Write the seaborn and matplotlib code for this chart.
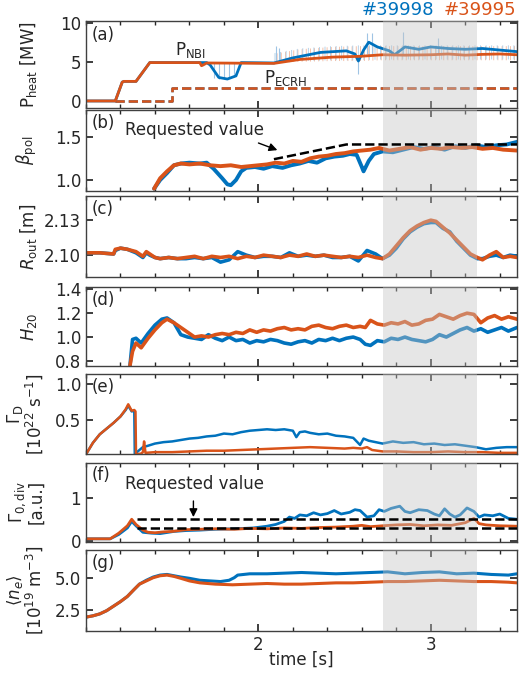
import numpy as np
import pandas as pd
import matplotlib
matplotlib.use("Agg")
import matplotlib.pyplot as plt
from matplotlib.ticker import FixedLocator, MultipleLocator
import seaborn as sns

# ---- data (time in s) ----
BLUE = "#0072BD"    # shot 39998
ORANGE = "#D95319"  # shot 39995

# (a) heating power [MW]
t_nbi_o = [1.0, 1.17, 1.21, 1.22, 1.29, 1.37, 1.66, 1.67, 1.68, 1.70, 2.09, 2.24, 2.43, 2.59,
           2.72, 2.85, 3.0, 3.1, 3.2, 3.3, 3.4, 3.5]
p_nbi_o = [0, 0, 2.4, 2.5, 2.5, 4.9, 4.9, 4.5, 4.6, 4.85, 4.8, 5.3, 5.6, 5.7,
           5.9, 5.85, 5.9, 6.0, 5.85, 5.95, 6.0, 5.9]
t_nbi_b = [1.0, 1.17, 1.21, 1.22, 1.29, 1.37, 1.66, 1.70, 1.72, 1.77, 1.82, 1.87, 1.90, 2.09,
           2.20, 2.36, 2.51, 2.56, 2.58, 2.61, 2.64, 2.69, 2.76, 2.79, 2.85, 2.93, 3.0, 3.1,
           3.2, 3.3, 3.4, 3.5]
p_nbi_b = [0, 0, 2.4, 2.5, 2.5, 4.9, 4.9, 4.9, 4.6, 3.0, 2.8, 3.2, 4.9, 4.85,
           5.5, 6.2, 6.4, 6.0, 5.1, 6.5, 7.5, 6.9, 6.4, 5.9, 6.9, 6.6, 6.9, 6.7,
           6.6, 6.7, 6.5, 6.3]
t_ecrh = [1.17, 1.497, 1.497, 3.5]
p_ecrh = [0.05, 0.05, 1.6, 1.6]
# modulated raw NBI signal (pale band)
t_raw = [2.09, 2.24, 2.43, 2.59, 2.72, 3.0, 3.5]
raw_lo = [4.9, 5.0, 5.1, 5.1, 5.2, 5.2, 5.2]
raw_hi = [6.0, 6.6, 6.9, 7.0, 7.0, 7.0, 7.0]
spike_t = [1.74, 1.77, 1.80, 1.83, 1.86, 2.10, 2.12, 2.58, 2.63, 2.66, 2.84, 3.04]
spike_lo = [2.9, 2.8, 2.8, 2.9, 3.0, 5.0, 5.0, 3.5, 6.0, 6.0, 6.0, 6.0]
spike_hi = [4.9, 4.9, 4.9, 4.9, 4.9, 7.0, 6.8, 5.6, 8.7, 8.7, 8.8, 8.0]

# (b) beta_pol
t_bp_b = [1.395, 1.43, 1.47, 1.51, 1.55, 1.60, 1.66, 1.70, 1.74, 1.79, 1.82, 1.84, 1.87, 1.90,
          1.93, 1.98, 2.03, 2.08, 2.14, 2.19, 2.24, 2.29, 2.34, 2.39, 2.44, 2.49, 2.53, 2.57,
          2.60, 2.61, 2.64, 2.67, 2.72, 2.78, 2.84, 2.90, 2.96, 3.02, 3.08, 3.14, 3.20, 3.26,
          3.32, 3.38, 3.44, 3.5]
bp_b = [0.90, 1.00, 1.08, 1.17, 1.19, 1.20, 1.19, 1.20, 1.13, 1.02, 0.95, 0.94, 1.00, 1.10,
        1.14, 1.15, 1.13, 1.16, 1.14, 1.17, 1.19, 1.22, 1.20, 1.25, 1.27, 1.28, 1.30, 1.29,
        1.15, 1.10, 1.22, 1.30, 1.33, 1.32, 1.35, 1.38, 1.36, 1.38, 1.35, 1.39, 1.37, 1.40,
        1.38, 1.40, 1.41, 1.44]
t_bp_o = [1.395, 1.43, 1.47, 1.51, 1.55, 1.60, 1.66, 1.72, 1.78, 1.84, 1.90, 1.95, 2.00, 2.05,
          2.10, 2.15, 2.20, 2.25, 2.30, 2.35, 2.40, 2.45, 2.50, 2.55, 2.60, 2.65, 2.70, 2.76,
          2.82, 2.88, 2.94, 3.00, 3.06, 3.12, 3.18, 3.24, 3.30, 3.36, 3.42, 3.5]
bp_o = [0.90, 1.02, 1.10, 1.17, 1.19, 1.18, 1.19, 1.17, 1.16, 1.17, 1.15, 1.16, 1.17, 1.18,
        1.20, 1.19, 1.22, 1.21, 1.25, 1.27, 1.28, 1.30, 1.31, 1.33, 1.34, 1.35, 1.37, 1.34,
        1.36, 1.38, 1.35, 1.37, 1.36, 1.38, 1.37, 1.38, 1.36, 1.37, 1.35, 1.34]
t_bp_req = [2.09, 2.51, 3.5]
bp_req = [1.24, 1.41, 1.41]

# (c) R_out [m]
t_r = [1.0, 1.08, 1.16, 1.17, 1.20, 1.24, 1.29, 1.33, 1.35, 1.37, 1.40, 1.43, 1.48, 1.53,
       1.58, 1.63, 1.68, 1.73, 1.78, 1.83, 1.88, 1.93, 1.98, 2.03, 2.08, 2.13, 2.18, 2.23,
       2.28, 2.33, 2.38, 2.43, 2.48, 2.53, 2.58, 2.63, 2.68, 2.72, 2.76, 2.80, 2.84, 2.88,
       2.92, 2.96, 3.00, 3.03, 3.07, 3.11, 3.15, 3.19, 3.23, 3.27, 3.30, 3.34, 3.38, 3.42,
       3.46, 3.5]
r_o = [2.102, 2.102, 2.101, 2.105, 2.106, 2.105, 2.103, 2.099, 2.103, 2.101, 2.098, 2.097,
       2.098, 2.097, 2.098, 2.099, 2.097, 2.099, 2.098, 2.099, 2.097, 2.099, 2.098, 2.100,
       2.099, 2.098, 2.100, 2.099, 2.101, 2.099, 2.100, 2.099, 2.098, 2.099, 2.098, 2.100,
       2.098, 2.097, 2.101, 2.108, 2.115, 2.121, 2.125, 2.128, 2.130, 2.129, 2.124, 2.119,
       2.113, 2.107, 2.101, 2.098, 2.096, 2.100, 2.103, 2.098, 2.099, 2.098]
r_b = [2.102, 2.102, 2.101, 2.104, 2.106, 2.105, 2.102, 2.098, 2.102, 2.100, 2.098, 2.097,
       2.098, 2.097, 2.097, 2.098, 2.097, 2.098, 2.094, 2.096, 2.103, 2.100, 2.098, 2.099,
       2.099, 2.098, 2.102, 2.099, 2.100, 2.099, 2.100, 2.098, 2.098, 2.099, 2.095, 2.104,
       2.101, 2.097, 2.100, 2.106, 2.114, 2.120, 2.124, 2.127, 2.128, 2.128, 2.123, 2.120,
       2.112, 2.106, 2.100, 2.097, 2.097, 2.099, 2.100, 2.098, 2.100, 2.099]

# (d) H20
t_h = [1.255, 1.27, 1.29, 1.32, 1.36, 1.40, 1.44, 1.47, 1.51, 1.55, 1.59, 1.63, 1.67, 1.71,
       1.75, 1.79, 1.83, 1.87, 1.91, 1.95, 1.99, 2.03, 2.07, 2.11, 2.15, 2.19, 2.23, 2.27,
       2.31, 2.35, 2.39, 2.43, 2.47, 2.51, 2.55, 2.59, 2.62, 2.65, 2.69, 2.73, 2.77, 2.81,
       2.85, 2.89, 2.93, 2.97, 3.01, 3.05, 3.09, 3.13, 3.17, 3.21, 3.25, 3.29, 3.33, 3.37,
       3.41, 3.45, 3.5]
h_b = [0.76, 0.98, 0.99, 0.95, 1.03, 1.10, 1.15, 1.16, 1.12, 1.02, 1.00, 0.99, 0.98, 1.02,
       0.99, 0.97, 1.00, 0.97, 0.98, 0.95, 0.97, 0.96, 0.98, 0.97, 0.95, 0.94, 0.96, 0.97,
       0.95, 0.98, 0.97, 0.99, 0.97, 0.99, 1.00, 0.98, 0.94, 0.93, 0.97, 0.96, 0.99, 0.98,
       1.00, 0.98, 0.97, 0.96, 0.98, 1.02, 1.00, 1.03, 1.06, 1.08, 1.05, 1.07, 1.04, 1.06,
       1.08, 1.05, 1.08]
h_o = [0.76, 0.88, 0.95, 0.91, 0.99, 1.06, 1.12, 1.15, 1.12, 1.08, 1.04, 1.00, 1.01, 1.00,
       1.02, 1.03, 1.02, 1.04, 1.03, 1.06, 1.04, 1.06, 1.05, 1.07, 1.08, 1.06, 1.07, 1.06,
       1.09, 1.10, 1.08, 1.07, 1.09, 1.10, 1.08, 1.09, 1.08, 1.14, 1.11, 1.10, 1.12, 1.11,
       1.13, 1.10, 1.11, 1.14, 1.15, 1.19, 1.17, 1.15, 1.18, 1.20, 1.19, 1.12, 1.16, 1.18,
       1.15, 1.17, 1.15]

# (e) gas puff Gamma_D [1e22 /s]
t_gd_o = [1.0, 1.04, 1.08, 1.12, 1.16, 1.20, 1.23, 1.245, 1.265, 1.28, 1.287, 1.29, 1.32,
          1.33, 1.337, 1.345, 1.40, 1.50, 1.60, 1.70, 1.80, 1.90, 2.00, 2.10, 2.20, 2.30,
          2.40, 2.50, 2.55, 2.60, 2.63, 2.66, 2.72, 2.80, 2.90, 3.00, 3.10, 3.20, 3.30, 3.40,
          3.5]
gd_o = [0.02, 0.18, 0.30, 0.38, 0.46, 0.55, 0.65, 0.72, 0.63, 0.64, 0.62, 0.02, 0.03,
        0.05, 0.20, 0.04, 0.05, 0.05, 0.06, 0.07, 0.07, 0.08, 0.09, 0.10, 0.11, 0.12,
        0.11, 0.10, 0.11, 0.10, 0.12, 0.08, 0.06, 0.06, 0.05, 0.05, 0.06, 0.05, 0.05, 0.04,
        0.04]
t_gd_b = [1.0, 1.04, 1.08, 1.12, 1.16, 1.20, 1.23, 1.245, 1.265, 1.28, 1.283, 1.30, 1.33,
          1.36, 1.40, 1.45, 1.50, 1.55, 1.60, 1.65, 1.70, 1.75, 1.80, 1.85, 1.90, 1.95,
          2.00, 2.05, 2.10, 2.15, 2.20, 2.22, 2.24, 2.27, 2.30, 2.35, 2.40, 2.45, 2.50,
          2.55, 2.59, 2.61, 2.64, 2.68, 2.72, 2.78, 2.84, 2.90, 2.96, 3.02, 3.08, 3.14,
          3.20, 3.26, 3.32, 3.38, 3.44, 3.5]
gd_b = [0.02, 0.18, 0.30, 0.38, 0.46, 0.55, 0.64, 0.70, 0.62, 0.63, 0.02, 0.06, 0.12,
        0.14, 0.17, 0.19, 0.20, 0.22, 0.24, 0.25, 0.27, 0.28, 0.31, 0.30, 0.33, 0.35,
        0.36, 0.37, 0.36, 0.37, 0.35, 0.26, 0.33, 0.34, 0.32, 0.30, 0.31, 0.28, 0.27,
        0.25, 0.15, 0.24, 0.21, 0.19, 0.17, 0.20, 0.18, 0.19, 0.16, 0.17, 0.15, 0.16,
        0.14, 0.12, 0.09, 0.11, 0.12, 0.12]

# (f) divertor neutral flux [a.u.]
t_g0_b = [1.0, 1.14, 1.19, 1.24, 1.265, 1.29, 1.33, 1.38, 1.43, 1.51, 1.58, 1.66, 1.75,
          1.86, 1.97, 2.05, 2.10, 2.15, 2.18, 2.21, 2.24, 2.28, 2.32, 2.36, 2.40, 2.44,
          2.48, 2.53, 2.56, 2.59, 2.63, 2.67, 2.70, 2.73, 2.77, 2.82, 2.85, 2.88, 2.93,
          2.98, 3.02, 3.05, 3.08, 3.11, 3.14, 3.17, 3.21, 3.25, 3.28, 3.31, 3.36, 3.40,
          3.45, 3.5]
g0_b = [0.05, 0.05, 0.15, 0.30, 0.45, 0.35, 0.20, 0.18, 0.17, 0.22, 0.24, 0.25, 0.27,
        0.28, 0.30, 0.34, 0.38, 0.45, 0.55, 0.52, 0.60, 0.58, 0.65, 0.60, 0.63, 0.70,
        0.62, 0.66, 0.72, 0.70, 0.55, 0.58, 0.72, 0.68, 0.75, 0.80, 0.68, 0.65, 0.72,
        0.70, 0.62, 0.58, 0.74, 0.62, 0.55, 0.60, 0.76, 0.68, 0.55, 0.60, 0.58, 0.62,
        0.52, 0.50]
t_g0_o = [1.0, 1.14, 1.19, 1.24, 1.265, 1.29, 1.33, 1.36, 1.40, 1.45, 1.50, 1.58, 1.66,
          1.75, 1.86, 1.95, 2.05, 2.15, 2.25, 2.35, 2.45, 2.55, 2.60, 2.65, 2.72, 2.80,
          2.88, 2.96, 3.04, 3.12, 3.20, 3.25, 3.28, 3.32, 3.40, 3.5]
g0_o = [0.05, 0.05, 0.18, 0.35, 0.50, 0.38, 0.25, 0.20, 0.19, 0.21, 0.22, 0.26, 0.27,
        0.28, 0.27, 0.29, 0.28, 0.30, 0.29, 0.31, 0.32, 0.34, 0.36, 0.33, 0.35, 0.37,
        0.38, 0.35, 0.37, 0.36, 0.42, 0.52, 0.40, 0.37, 0.35, 0.34]
t_g0_req = [1.294, 3.5]
g0_req_b = [0.50, 0.50]
g0_req_o = [0.29, 0.29]

# (g) line averaged density [1e19 m^-3]
t_ne_o = [1.0, 1.04, 1.08, 1.12, 1.16, 1.20, 1.24, 1.28, 1.31, 1.35, 1.39, 1.43, 1.47,
          1.51, 1.55, 1.60, 1.66, 1.75, 1.85, 1.95, 2.05, 2.15, 2.25, 2.35, 2.45, 2.55,
          2.65, 2.75, 2.85, 2.95, 3.05, 3.15, 3.25, 3.35, 3.45, 3.5]
ne_o = [1.95, 2.05, 2.2, 2.45, 2.8, 3.15, 3.55, 4.1, 4.5, 4.75, 5.0, 5.15, 5.2,
        5.1, 4.95, 4.75, 4.6, 4.5, 4.45, 4.5, 4.55, 4.5, 4.5, 4.55, 4.6, 4.6,
        4.65, 4.7, 4.7, 4.75, 4.8, 4.75, 4.7, 4.7, 4.65, 4.6]
t_ne_b = [1.0, 1.04, 1.08, 1.12, 1.16, 1.20, 1.24, 1.28, 1.31, 1.35, 1.39, 1.43, 1.47,
          1.51, 1.55, 1.60, 1.66, 1.72, 1.78, 1.83, 1.86, 1.88, 1.95, 2.05, 2.15, 2.25,
          2.35, 2.45, 2.55, 2.65, 2.75, 2.85, 2.95, 3.05, 3.15, 3.25, 3.35, 3.45, 3.5]
ne_b = [1.95, 2.05, 2.2, 2.45, 2.8, 3.15, 3.55, 4.1, 4.5, 4.8, 5.05, 5.2, 5.25,
        5.15, 5.05, 4.95, 4.8, 4.75, 4.7, 4.8, 5.0, 5.2, 5.3, 5.3, 5.35, 5.4,
        5.35, 5.3, 5.35, 5.4, 5.45, 5.3, 5.4, 5.45, 5.3, 5.35, 5.25, 5.2, 5.3]

shade_window = (2.72, 3.27)

# ---- styling ----
sns.set_theme(style="ticks")
plt.rcParams.update({
    "font.family": ["DejaVu Sans"],
    "font.size": 12,
    "xtick.direction": "in", "ytick.direction": "in",
    "xtick.top": True, "ytick.right": True,
    "xtick.major.size": 5, "ytick.major.size": 5,
    "xtick.minor.size": 3, "ytick.minor.size": 3,
    "xtick.labelsize": 12, "ytick.labelsize": 12,
    "axes.edgecolor": "#404040", "axes.linewidth": 1.0,
    "hatch.linewidth": 0.6,
})


def trace(ax, t, y, color, lw=2.0, ls="-", z=2):
    df = pd.DataFrame({"t": t, "y": y})
    sns.lineplot(data=df, x="t", y="y", ax=ax, color=color, lw=lw, linestyle=ls,
                 estimator=None, sort=False, zorder=z, legend=False)


fig = plt.figure(figsize=(5.2, 6.75), dpi=100)
panel_px = [(20.7, 108), (110, 191), (195.7, 277.3), (287.3, 365.7),
            (374.3, 454), (462.7, 541.7), (550, 630.7)]
axes = []
for top, bot in panel_px:
    ax = fig.add_axes([86 / 520, 1 - bot / 675, (517 - 86) / 520, (bot - top) / 675],
                      sharex=axes[0] if axes else None)
    axes.append(ax)

ax_a, ax_b, ax_c, ax_d, ax_e, ax_f, ax_g = axes

# (a)
ax_a.fill_between(t_raw, raw_lo, raw_hi, facecolor="none", edgecolor="#f2b79c",
                  hatch="||||", lw=0, zorder=1)
ax_a.fill_between(t_raw, [v + 0.1 for v in raw_lo], [v + 0.1 for v in raw_hi],
                  facecolor="none", edgecolor="#a9cbe6", hatch="|||", lw=0, zorder=1)
ax_a.vlines(spike_t, spike_lo, spike_hi, color="#9fc4e4", lw=0.8, zorder=1)
trace(ax_a, t_ecrh, p_ecrh, BLUE, lw=1.8, ls="--")
trace(ax_a, t_ecrh, p_ecrh, ORANGE, lw=1.8, ls="--")
trace(ax_a, t_nbi_b, p_nbi_b, BLUE, lw=2.0)
trace(ax_a, t_nbi_o, p_nbi_o, ORANGE, lw=2.0)
ax_a.text(1.516, 6.5, r"$\mathrm{P_{NBI}}$", fontsize=12, va="center")
ax_a.text(2.03, 2.9, r"$\mathrm{P_{ECRH}}$", fontsize=12, va="center")
ax_a.set_ylim(-0.9, 10.25)
ax_a.set_yticks([0, 5, 10])
ax_a.set_ylabel(r"$\mathrm{P_{heat}}$ [MW]")

# (b)
trace(ax_b, t_bp_b, bp_b, BLUE, lw=2.8)
trace(ax_b, t_bp_o, bp_o, ORANGE, lw=2.8)
trace(ax_b, t_bp_req, bp_req, "black", lw=1.8, ls="--", z=4)
ax_b.annotate("Requested value", xy=(2.11, 1.345), xytext=(1.225, 1.58),
              fontsize=12, va="center",
              arrowprops=dict(arrowstyle="-|>", color="black", lw=1,
                              relpos=(0.88, 0.0), shrinkA=2, shrinkB=0))
ax_b.set_ylim(0.873, 1.808)
ax_b.set_yticks([1.0, 1.5])
ax_b.set_ylabel(r"$\beta_\mathrm{pol}$")

# (c)
trace(ax_c, t_r, r_b, BLUE, lw=2.6)
trace(ax_c, t_r, r_o, ORANGE, lw=2.6)
ax_c.set_ylim(2.081, 2.151)
ax_c.set_yticks([2.10, 2.13])
ax_c.set_ylabel(r"$R_\mathrm{out}$ [m]")

# (d)
trace(ax_d, t_h, h_b, BLUE, lw=2.6)
trace(ax_d, t_h, h_o, ORANGE, lw=2.6)
ax_d.set_ylim(0.76, 1.417)
ax_d.set_yticks([0.8, 1.0, 1.2, 1.4])
ax_d.set_ylabel(r"$H_{20}$")

# (e)
trace(ax_e, t_gd_b, gd_b, BLUE, lw=1.8)
trace(ax_e, t_gd_o, gd_o, ORANGE, lw=1.8)
ax_e.set_ylim(0.024, 1.14)
ax_e.set_yticks([0.5, 1.0])
ax_e.set_ylabel("$\\Gamma_\\mathrm{D}$\n[10$^{22}$ s$^{-1}$]", linespacing=0.95)

# (f)
trace(ax_f, t_g0_b, g0_b, BLUE, lw=2.0)
trace(ax_f, t_g0_o, g0_o, ORANGE, lw=2.0)
trace(ax_f, t_g0_req, g0_req_b, "black", lw=1.8, ls="--", z=4)
trace(ax_f, t_g0_req, g0_req_o, "black", lw=1.8, ls="--", z=4)
ax_f.text(1.225, 1.32, "Requested value", fontsize=12, va="center")
ax_f.annotate("", xy=(1.623, 0.55), xytext=(1.623, 0.92),
              arrowprops=dict(arrowstyle="-|>", color="black", lw=1,
                              shrinkA=0, shrinkB=0))
ax_f.set_ylim(-0.016, 1.8)
ax_f.set_yticks([0, 1])
ax_f.set_ylabel("$\\Gamma_\\mathrm{0,div}$\n[a.u.]", linespacing=0.95)

# (g)
trace(ax_g, t_ne_b, ne_b, BLUE, lw=2.2)
trace(ax_g, t_ne_o, ne_o, ORANGE, lw=2.2)
ax_g.set_ylim(0.9, 7.14)
ax_g.set_yticks([2.5, 5.0])
ax_g.set_ylabel("$\\langle n_e \\rangle$\n[10$^{19}$ m$^{-3}$]", linespacing=0.95)

for ax, letter in zip(axes, "abcdefg"):
    ax.axvspan(*shade_window, color="#c4c4c4", alpha=0.42, lw=0, zorder=3)
    ax.text(0.012, 0.84, f"({letter})", transform=ax.transAxes, fontsize=12,
            va="center", ha="left", zorder=5)
    ax.set_xlim(1.0, 3.5)
    ax.xaxis.set_major_locator(FixedLocator([2, 3]))
    ax.xaxis.set_minor_locator(MultipleLocator(0.2))
    two_line = ax in (ax_e, ax_f, ax_g)
    ax.yaxis.set_label_coords(-0.094 if two_line else -0.108, 0.5)
    ax.tick_params(which="both", top=True, right=True, direction="in")
    if ax is not ax_g:
        ax.tick_params(labelbottom=False)
        ax.set_xlabel("")

ax_g.set_xlabel("time [s]", fontsize=12)
ax_g.xaxis.set_label_coords(0.5, -0.25)

fig.text(0.835, 0.985, "#39998", color=BLUE, ha="right", va="center", fontsize=13)
fig.text(0.992, 0.985, "#39995", color=ORANGE, ha="right", va="center", fontsize=13)

fig.savefig("out.png", dpi=100)
